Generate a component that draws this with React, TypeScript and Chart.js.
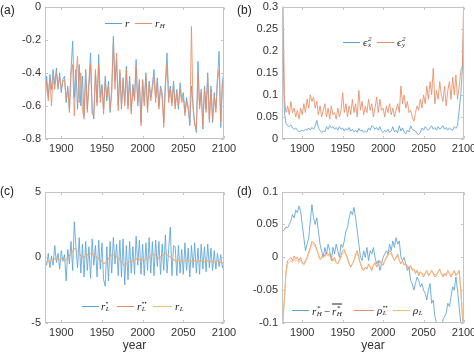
import React, { useEffect, useRef } from 'react';
import { Chart, registerables } from 'chart.js';

Chart.register(...registerables);

// ---------- data ----------
const YEAR_STEP = 2;
const START_LEFT = 1880; // panels (a), (c)
const START_RIGHT = 1876; // panels (b), (d)
const X_MIN_LEFT = 1880;
const X_MIN_RIGHT = 1875;
const X_MAX = 2100;
const X_TICKS = [1900, 1950, 2000, 2050, 2100];

// (a)
const A_Y_TICKS = [0, -0.2, -0.4, -0.6, -0.8];
const A_Y_LABELS = ['0', '-0.2', '-0.4', '-0.6', '-0.8'];
const R = [
  -0.56, -0.42, -0.55, -0.41, -0.5, -0.38, -0.47, -0.37, -0.5, -0.4,
  -0.52, -0.44, -0.42, -0.58, -0.48, -0.62, -0.38, -0.21, -0.55, -0.38,
  -0.62, -0.35, -0.6, -0.42, -0.66, -0.38, -0.62, -0.45, -0.28, -0.62,
  -0.68, -0.4, -0.58, -0.29, -0.55, -0.47, -0.62, -0.42, -0.57, -0.45,
  -0.64, -0.5, -0.18, -0.45, -0.32, -0.6, -0.4, -0.62, -0.43, -0.58,
  -0.36, -0.6, -0.42, -0.63, -0.47, -0.55, -0.32, -0.6, -0.44, -0.7,
  -0.45, -0.58, -0.4, -0.62, -0.45, -0.55, -0.47, -0.38, -0.55, -0.43,
  -0.6, -0.48, -0.52, -0.7, -0.45, -0.28, -0.55, -0.48, -0.58, -0.45,
  -0.6, -0.5, -0.62, -0.46, -0.56, -0.52, -0.64, -0.55, -0.62, -0.72,
  -0.48, -0.6, -0.7, -0.76, -0.33, -0.6, -0.5, -0.74, -0.48, -0.62,
  -0.4, -0.68, -0.48, -0.7, -0.52, -0.62, -0.43, -0.27, -0.73, -0.45,
  -0.4,
];
const R_H = [
  -0.58, -0.45, -0.57, -0.43, -0.6, -0.42, -0.5, -0.4, -0.48, -0.42,
  -0.5, -0.45, -0.44, -0.56, -0.5, -0.64, -0.4, -0.35, -0.66, -0.42,
  -0.3, -0.58, -0.4, -0.62, -0.68, -0.4, -0.64, -0.48, -0.35, -0.65,
  -0.66, -0.38, -0.6, -0.35, -0.58, -0.48, -0.65, -0.45, -0.55, -0.48,
  -0.62, -0.52, -0.22, -0.5, -0.28, -0.63, -0.38, -0.6, -0.45, -0.6,
  -0.38, -0.62, -0.44, -0.65, -0.5, -0.57, -0.36, -0.58, -0.46, -0.72,
  -0.44, -0.6, -0.42, -0.64, -0.47, -0.57, -0.5, -0.42, -0.58, -0.46,
  -0.62, -0.5, -0.55, -0.73, -0.48, -0.35, -0.58, -0.5, -0.6, -0.47,
  -0.62, -0.52, -0.6, -0.5, -0.58, -0.55, -0.66, -0.57, -0.6, -0.7,
  -0.12, -0.62, -0.72, -0.74, -0.4, -0.62, -0.52, -0.72, -0.5, -0.64,
  -0.43, -0.7, -0.5, -0.68, -0.55, -0.64, -0.45, -0.38, -0.7, -0.48,
  -0.42,
];

// (b)
const B_Y_TICKS = [0.3, 0.25, 0.2, 0.15, 0.1, 0.05, 0];
const B_Y_LABELS = ['0.3', '0.25', '0.2', '0.15', '0.1', '0.05', '0'];
const EPS_X = [
  0.24, 0.06, 0.035, 0.03, 0.028, 0.032, 0.025, 0.022, 0.025, 0.02,
  0.016, 0.018, 0.02, 0.018, 0.022, 0.02, 0.025, 0.02, 0.026, 0.022,
  0.03, 0.042, 0.025, 0.02, 0.015, 0.018, 0.016, 0.028, 0.022, 0.03,
  0.025, 0.028, 0.022, 0.026, 0.02, 0.028, 0.022, 0.025, 0.018, 0.024,
  0.02, 0.026, 0.018, 0.022, 0.016, 0.02, 0.015, 0.024, 0.018, 0.02,
  0.015, 0.018, 0.016, 0.025, 0.02, 0.03, 0.028, 0.022, 0.026, 0.02,
  0.028, 0.018, 0.015, 0.02, 0.016, 0.022, 0.015, 0.018, 0.028, 0.016,
  0.02, 0.014, 0.03, 0.018, 0.025, 0.015, 0.012, 0.02, 0.016, 0.03,
  0.022, 0.02, 0.018, 0.012, 0.01, 0.015, 0.025, 0.02, 0.028, 0.024,
  0.02, 0.025, 0.03, 0.022, 0.026, 0.02, 0.028, 0.022, 0.025, 0.03,
  0.022, 0.026, 0.02, 0.025, 0.022, 0.02, 0.028, 0.024, 0.03, 0.065,
  0.1, 0.16, 0.28,
];
const EPS_Y = [
  0.35, 0.09, 0.06, 0.075, 0.055, 0.085, 0.06, 0.07, 0.05, 0.065,
  0.045, 0.07, 0.055, 0.08, 0.06, 0.09, 0.07, 0.1, 0.085, 0.095,
  0.07, 0.085, 0.055, 0.075, 0.05, 0.065, 0.08, 0.05, 0.07, 0.045,
  0.075, 0.055, 0.06, 0.045, 0.07, 0.05, 0.065, 0.105, 0.06, 0.08,
  0.05, 0.075, 0.055, 0.09, 0.06, 0.08, 0.05, 0.11, 0.065, 0.085,
  0.055, 0.075, 0.06, 0.09, 0.065, 0.08, 0.05, 0.07, 0.095, 0.06,
  0.09, 0.065, 0.07, 0.05, 0.075, 0.06, 0.08, 0.055, 0.07, 0.05,
  0.065, 0.08, 0.06, 0.12, 0.08, 0.1, 0.07, 0.085, 0.06, 0.065,
  0.05, 0.04, 0.06, 0.075, 0.065, 0.09, 0.07, 0.1, 0.08, 0.12,
  0.09, 0.13, 0.1, 0.16, 0.08, 0.11, 0.09, 0.13, 0.1, 0.085,
  0.12, 0.075, 0.11, 0.13, 0.09, 0.14, 0.1, 0.145, 0.09, 0.12,
  0.155, 0.165, 0.35,
];

// (c)
const C_Y_TICKS = [5, 0, -5];
const C_Y_LABELS = ['5', '0', '-5'];
const R_L1 = [
  -0.4, -0.6, 0.3, -0.8, 0.1, -0.6, 0.9, -0.4, 0.3, -0.9,
  0.5, -0.3, 0.2, -1.8, 0.6, -0.5, 1.2, -1.0, 2.7, 0.8,
  -0.8, 1.5, -1.2, 1.0, -1.5, 1.2, -1.0, 0.8, -1.6, 1.4,
  -0.6, 0.9, -1.5, 1.3, -0.9, 1.1, -1.7, -2.2, 0.8, -1.8,
  1.2, -1.2, 1.5, -0.5, 1.0, -1.4, 1.3, -1.5, 1.4, -2.1,
  0.9, -1.7, 1.2, -1.2, 0.8, -1.3, 1.6, -0.6, 1.3, -1.3,
  1.0, -1.4, 1.1, -1.0, 1.5, -1.2, 1.2, -1.4, 1.3, -0.7,
  1.2, -1.3, 1.0, -1.0, 1.7, -1.2, 0.6, 2.3, -1.4, 0.9,
  0.8, -1.4, 0.9, -1.2, 0.6, -1.3, 1.1, -1.0, 0.7, -1.5,
  0.9, -0.8, 1.1, -1.2, 0.7, -1.3, 1.0, -0.9, 0.8, -1.1,
  1.0, -0.8, 0.7, -1.0, 0.5, -0.9, 0.3, -0.7, 0.2, -0.8,
  -0.4,
];
const R_L2 = [
  -0.4, -0.45, -0.3, -0.35, -0.2, -0.3, -0.1, -0.05, -0.15, -0.2,
  -0.1, -0.15, -0.3, -0.2, 0.0, 0.1, 0.3, 0.5, 0.7, 0.6,
  0.4, 0.3, 0.1, 0.0, 0.05, 0.1, 0.2, 0.25, 0.3, 0.2,
  0.25, 0.1, 0.0, -0.1, -0.2, -0.35, -0.5, -0.45, -0.3, -0.1,
  0.05, 0.2, 0.15, 0.05, 0.1, -0.05, -0.2, -0.35, -0.5, -0.6,
  -0.5, -0.4, -0.35, -0.25, -0.3, -0.2, -0.1, -0.15, -0.2, -0.1,
  -0.2, -0.25, -0.1, -0.2, 0.0, 0.1, 0.2, 0.25, 0.1, 0.0,
  -0.1, 0.05, 0.1, 0.2, 0.3, 0.2, 0.1, 0.0, -0.1, -0.2,
  -0.25, -0.3, -0.2, -0.3, -0.25, -0.35, -0.3, -0.2, -0.3, -0.25,
  -0.3, -0.35, -0.25, -0.3, -0.35, -0.3, -0.25, -0.3, -0.35, -0.3,
  -0.25, -0.3, -0.35, -0.3, -0.4, -0.35, -0.3, -0.35, -0.4, -0.45,
  -0.5,
];
const R_L = [
  -0.35, -0.4, -0.35, -0.3, -0.25, -0.25, -0.15, -0.1, -0.1, -0.15,
  -0.15, -0.2, -0.25, -0.15, -0.05, 0.05, 0.25, 0.45, 0.6, 0.55,
  0.45, 0.3, 0.15, 0.05, 0.0, 0.1, 0.15, 0.2, 0.25, 0.25,
  0.2, 0.15, 0.05, -0.05, -0.15, -0.3, -0.45, -0.45, -0.35, -0.15,
  0.0, 0.15, 0.2, 0.1, 0.05, 0.0, -0.15, -0.3, -0.45, -0.55,
  -0.55, -0.45, -0.35, -0.3, -0.25, -0.2, -0.15, -0.1, -0.15, -0.15,
  -0.15, -0.2, -0.15, -0.15, -0.05, 0.05, 0.15, 0.2, 0.15, 0.05,
  -0.05, 0.0, 0.1, 0.15, 0.25, 0.25, 0.15, 0.05, -0.05, -0.15,
  -0.2, -0.25, -0.25, -0.25, -0.3, -0.3, -0.3, -0.25, -0.25, -0.3,
  -0.3, -0.3, -0.3, -0.25, -0.3, -0.3, -0.3, -0.25, -0.3, -0.3,
  -0.3, -0.25, -0.3, -0.3, -0.35, -0.35, -0.3, -0.3, -0.35, -0.4,
  -0.45,
];

// (d)
const D_Y_TICKS = [0.1, 0.05, 0, -0.05, -0.1];
const D_Y_LABELS = ['0.1', '0.05', '0', '-0.05', '-0.1'];
const R_H_DEV = [
  0.04, 0.042, 0.046, 0.045, 0.05, 0.055, 0.065, 0.06, 0.072, 0.068,
  0.078, 0.07, 0.05, 0.03, 0.01, 0.02, 0.03, 0.055, 0.08, 0.06,
  0.05, 0.06, 0.04, 0.02, 0.01, 0.0, 0.015, 0.005, 0.02, 0.01,
  -0.005, 0.015, 0.005, 0.02, 0.01, 0.0, 0.02, 0.015, 0.025, 0.04,
  0.045, 0.06, 0.07, 0.065, 0.076, 0.06, 0.04, 0.02, 0.0, -0.005,
  0.01, 0.0, 0.015, -0.005, 0.01, 0.005, 0.015, 0.0, -0.01, -0.005,
  -0.02, -0.01, 0.0, 0.005, 0.01, 0.005, 0.02, 0.01, 0.025, 0.015,
  0.03, 0.02, 0.025, 0.0, -0.005, 0.0, -0.01, -0.02, -0.015, -0.035,
  -0.04, -0.05, -0.04, -0.03, -0.035, -0.045, -0.04, -0.05, -0.055, -0.065,
  -0.05, -0.04, -0.07, -0.065, -0.09, -0.1, -0.11, -0.1, -0.11, -0.095,
  -0.09, -0.085, -0.07, -0.075, -0.06, -0.045, -0.05, -0.03, -0.05, -0.075,
  -0.1, -0.12, -0.13,
];
const RHO_L2 = [
  -0.1, -0.06, -0.02, -0.005, -0.003, 0.0, -0.005, 0.002, -0.003, 0.0,
  -0.005, 0.0, -0.008, -0.01, -0.005, 0.0, 0.008, 0.015, 0.024, 0.022,
  0.02, 0.012, 0.005, -0.003, 0.0, 0.005, 0.002, 0.008, 0.004, 0.006,
  0.0, -0.005, 0.0, -0.008, -0.01, -0.004, 0.003, 0.01, 0.012, 0.005,
  0.0, -0.01, -0.015, -0.01, -0.005, 0.005, 0.01, 0.0, -0.01, -0.018,
  -0.02, -0.015, -0.018, -0.01, -0.015, -0.02, -0.012, -0.008, -0.015, -0.01,
  -0.005, -0.01, -0.012, -0.005, 0.0, 0.005, 0.01, 0.008, 0.0, -0.005,
  0.0, 0.005, -0.005, -0.01, -0.005, -0.012, -0.01, -0.015, -0.018, -0.012,
  -0.02, -0.018, -0.025, -0.02, -0.028, -0.022, -0.025, -0.03, -0.025, -0.02,
  -0.028, -0.025, -0.02, -0.025, -0.03, -0.028, -0.022, -0.018, -0.025, -0.03,
  -0.025, -0.028, -0.02, -0.025, -0.03, -0.025, -0.02, -0.028, -0.025, -0.02,
  -0.05, -0.09, -0.11,
];
const RHO_L = [
  -0.1, -0.065, -0.025, -0.01, -0.008, -0.005, -0.008, -0.003, -0.006, -0.004,
  -0.008, -0.004, -0.01, -0.012, -0.008, -0.003, 0.005, 0.012, 0.02, 0.02,
  0.016, 0.01, 0.003, -0.003, -0.002, 0.002, 0.0, 0.004, 0.002, 0.003,
  -0.003, -0.006, -0.004, -0.008, -0.01, -0.006, 0.0, 0.006, 0.008, 0.003,
  -0.003, -0.01, -0.013, -0.01, -0.006, 0.002, 0.006, -0.002, -0.01, -0.015,
  -0.018, -0.016, -0.016, -0.012, -0.014, -0.016, -0.012, -0.01, -0.012, -0.01,
  -0.007, -0.01, -0.01, -0.006, -0.002, 0.002, 0.006, 0.005, 0.0, -0.004,
  -0.002, 0.002, -0.004, -0.008, -0.006, -0.01, -0.01, -0.013, -0.015, -0.012,
  -0.018, -0.018, -0.022, -0.02, -0.025, -0.022, -0.024, -0.027, -0.024, -0.021,
  -0.025, -0.024, -0.021, -0.023, -0.027, -0.026, -0.022, -0.02, -0.024, -0.027,
  -0.024, -0.026, -0.021, -0.024, -0.027, -0.024, -0.021, -0.026, -0.024, -0.022,
  -0.045, -0.085, -0.11,
];

// ---------- styles ----------
const BLUE = '#5aa3d9';
const ORANGE = '#ea8c66';
const YELLOW = '#f2c074';
const BOX = '#c4c4c4';
const TEXT = '#333333';
const LINE_W = 0.85;
const SANS = '"Liberation Sans", Arial, Helvetica, sans-serif';
const SERIF = '"Liberation Serif", "Times New Roman", "DejaVu Serif", serif';

function toPoints(start: number, values: number[]) {
  return values.map((v, i) => ({ x: start + i * YEAR_STEP, y: v }));
}

const boxPlugin = {
  id: 'matlabBox',
  afterDatasetsDraw(chart: any) {
    const { ctx, chartArea: a, scales } = chart;
    const L = Math.round(a.left) + 0.5;
    const T = Math.round(a.top) + 0.5;
    const Rr = Math.round(a.right) - 0.5;
    const B = Math.round(a.bottom) - 0.5;
    ctx.save();
    ctx.strokeStyle = BOX;
    ctx.lineWidth = 1;
    ctx.strokeRect(L, T, Rr - L, B - T);
    const tl = 2.5;
    ctx.beginPath();
    for (const t of scales.x.ticks) {
      const px = Math.round(scales.x.getPixelForValue(t.value)) + 0.5;
      ctx.moveTo(px, B);
      ctx.lineTo(px, B - tl);
      ctx.moveTo(px, T);
      ctx.lineTo(px, T + tl);
    }
    for (const t of scales.y.ticks) {
      const py = Math.round(scales.y.getPixelForValue(t.value)) + 0.5;
      ctx.moveTo(L, py);
      ctx.lineTo(L + tl, py);
      ctx.moveTo(Rr, py);
      ctx.lineTo(Rr - tl, py);
    }
    ctx.stroke();
    ctx.restore();
  },
};

type PanelCfg = {
  left: number;
  top: number;
  width: number;
  height: number;
  xMin: number;
  yMin: number;
  yMax: number;
  yTicks: number[];
  yLabels: string[];
  xHeight: number;
  showYear: boolean;
  datasets: { data: { x: number; y: number }[]; color: string; order: number }[];
};

function Panel({ cfg }: { cfg: PanelCfg }) {
  const ref = useRef<HTMLCanvasElement | null>(null);
  useEffect(() => {
    if (!ref.current) return;
    const tickFont = { family: SANS, size: 11 };
    const chart = new Chart(ref.current, {
      type: 'line',
      data: {
        datasets: cfg.datasets.map((d) => ({
          data: d.data,
          borderColor: d.color,
          backgroundColor: d.color,
          borderWidth: LINE_W,
          pointRadius: 0,
          tension: 0,
          fill: false,
          order: d.order,
        })),
      },
      options: {
        responsive: false,
        animation: false,
        events: [],
        layout: { padding: { left: 0, right: 16, top: 10, bottom: 0 } },
        plugins: { legend: { display: false }, tooltip: { enabled: false } },
        scales: {
          x: {
            type: 'linear',
            min: cfg.xMin,
            max: X_MAX,
            grid: { display: false, drawTicks: false },
            border: { display: false },
            afterBuildTicks: (s: any) => {
              s.ticks = X_TICKS.map((v) => ({ value: v }));
            },
            afterFit: (s: any) => {
              s.height = cfg.xHeight;
            },
            ticks: {
              padding: 3,
              autoSkip: false,
              maxRotation: 0,
              color: TEXT,
              font: tickFont,
              callback: (v: any) => String(v),
            },
            title: {
              display: cfg.showYear,
              text: 'year',
              color: TEXT,
              font: { family: SANS, size: 12 },
              padding: { top: 0, bottom: 0 },
            },
          },
          y: {
            type: 'linear',
            min: cfg.yMin,
            max: cfg.yMax,
            grid: { display: false, drawTicks: false },
            border: { display: false },
            afterBuildTicks: (s: any) => {
              s.ticks = cfg.yTicks.map((v) => ({ value: v }));
            },
            afterFit: (s: any) => {
              s.width = 45;
            },
            ticks: {
              padding: 4,
              autoSkip: false,
              color: TEXT,
              font: tickFont,
              callback: (_v: any, i: number) => cfg.yLabels[i],
            },
          },
        },
      } as any,
      plugins: [boxPlugin],
    });
    return () => chart.destroy();
  }, []);
  return (
    <canvas
      ref={ref}
      width={cfg.width}
      height={cfg.height}
      style={{ position: 'absolute', left: cfg.left, top: cfg.top, width: cfg.width, height: cfg.height }}
    />
  );
}

function Sc({ base, sup, sub }: { base: string; sup?: string; sub?: string }) {
  return (
    <span style={{ display: 'inline-flex', alignItems: 'center' }}>
      <span style={{ fontStyle: 'italic' }}>{base}</span>
      <span
        style={{
          display: 'inline-flex',
          flexDirection: 'column',
          fontSize: 7,
          lineHeight: '6px',
          marginLeft: 0.5,
          fontStyle: 'italic',
          marginTop: sup ? 0 : 6,
        }}
      >
        {sup ? <span>{sup}</span> : null}
        <span>{sub || '\u00a0'}</span>
      </span>
    </span>
  );
}

function LegendItem({ x1, x2, y, color, tx, children }: any) {
  return (
    <>
      <div
        style={{ position: 'absolute', left: x1, top: y, width: x2 - x1, height: 0, borderTop: `1px solid ${color}` }}
      />
      <div
        style={{
          position: 'absolute',
          left: tx,
          top: y,
          transform: 'translateY(-50%)',
          fontFamily: SERIF,
          fontSize: 11,
          lineHeight: 1,
          color: '#222',
          whiteSpace: 'nowrap',
        }}
      >
        {children}
      </div>
    </>
  );
}

function PanelLabel({ x, y, text }: { x: number; y: number; text: string }) {
  return (
    <div
      style={{
        position: 'absolute',
        left: x,
        top: y,
        transform: 'translateY(-50%)',
        fontFamily: SANS,
        fontSize: 12,
        lineHeight: 1,
        color: '#222',
      }}
    >
      {text}
    </div>
  );
}

const PANEL_A: PanelCfg = {
  left: 0, top: -4, width: 240, height: 163, xMin: X_MIN_LEFT, yMin: -0.8, yMax: 0,
  yTicks: A_Y_TICKS, yLabels: A_Y_LABELS, xHeight: 20, showYear: false,
  datasets: [
    { data: toPoints(START_LEFT, R), color: BLUE, order: 1 },
    { data: toPoints(START_LEFT, R_H), color: ORANGE, order: 0 },
  ],
};
const PANEL_B: PanelCfg = {
  left: 237, top: -4, width: 243, height: 163, xMin: X_MIN_RIGHT, yMin: 0, yMax: 0.3,
  yTicks: B_Y_TICKS, yLabels: B_Y_LABELS, xHeight: 20, showYear: false,
  datasets: [
    { data: toPoints(START_RIGHT, EPS_X), color: BLUE, order: 1 },
    { data: toPoints(START_RIGHT, EPS_Y), color: ORANGE, order: 0 },
  ],
};
const PANEL_C: PanelCfg = {
  left: 0, top: 181, width: 240, height: 172, xMin: X_MIN_LEFT, yMin: -5, yMax: 5,
  yTicks: C_Y_TICKS, yLabels: C_Y_LABELS, xHeight: 30, showYear: true,
  datasets: [
    { data: toPoints(START_LEFT, R_L1), color: BLUE, order: 2 },
    { data: toPoints(START_LEFT, R_L2), color: ORANGE, order: 1 },
    { data: toPoints(START_LEFT, R_L), color: YELLOW, order: 0 },
  ],
};
const PANEL_D: PanelCfg = {
  left: 237, top: 181, width: 243, height: 172, xMin: X_MIN_RIGHT, yMin: -0.1, yMax: 0.1,
  yTicks: D_Y_TICKS, yLabels: D_Y_LABELS, xHeight: 30, showYear: true,
  datasets: [
    { data: toPoints(START_RIGHT, R_H_DEV), color: BLUE, order: 2 },
    { data: toPoints(START_RIGHT, RHO_L2), color: ORANGE, order: 1 },
    { data: toPoints(START_RIGHT, RHO_L), color: YELLOW, order: 0 },
  ],
};

export default function App() {
  return (
    <div style={{ position: 'absolute', left: 0, top: 0, width: 474, height: 353, overflow: 'hidden', background: '#fff' }}>
      <Panel cfg={PANEL_A} />
      <Panel cfg={PANEL_B} />
      <Panel cfg={PANEL_C} />
      <Panel cfg={PANEL_D} />

      <PanelLabel x={0} y={10} text="(a)" />
      <PanelLabel x={237} y={10} text="(b)" />
      <PanelLabel x={0} y={191} text="(c)" />
      <PanelLabel x={237} y={191} text="(d)" />

      <LegendItem x1={105} x2={122} y={23} color={BLUE} tx={125}>
        <Sc base="r" />
      </LegendItem>
      <LegendItem x1={135} x2={152} y={23} color={ORANGE} tx={155}>
        <Sc base="r" sub="H" />
      </LegendItem>

      <LegendItem x1={343} x2={360} y={42} color={BLUE} tx={363}>
        <Sc base={'\u03f5'} sup="2" sub="x" />
      </LegendItem>
      <LegendItem x1={377} x2={394} y={42} color={ORANGE} tx={397}>
        <Sc base={'\u03f5'} sup="2" sub="y" />
      </LegendItem>

      <LegendItem x1={82} x2={99} y={306} color={BLUE} tx={101}>
        <Sc base="r" sup={'\u2022'} sub="L" />
      </LegendItem>
      <LegendItem x1={117} x2={134} y={306} color={ORANGE} tx={137}>
        <Sc base="r" sup={'\u2022\u2022'} sub="L" />
      </LegendItem>
      <LegendItem x1={153} x2={172} y={306} color={YELLOW} tx={175}>
        <Sc base="r" sub="L" />
      </LegendItem>

      <LegendItem x1={292} x2={309} y={310} color={BLUE} tx={312}>
        <Sc base="r" sup="*" sub="H" />
        <span style={{ margin: '0 2px', fontStyle: 'normal' }}>{'\u2212'}</span>
        <span style={{ borderTop: '1px solid #222', display: 'inline-flex' }}>
          <Sc base="r" sup="*" sub="H" />
        </span>
      </LegendItem>
      <LegendItem x1={354} x2={374} y={310} color={ORANGE} tx={377}>
        <Sc base={'\u03c1'} sup={'\u2022\u2022'} sub="L" />
      </LegendItem>
      <LegendItem x1={393} x2={410} y={310} color={YELLOW} tx={413}>
        <Sc base={'\u03c1'} sub="L" />
      </LegendItem>
    </div>
  );
}
